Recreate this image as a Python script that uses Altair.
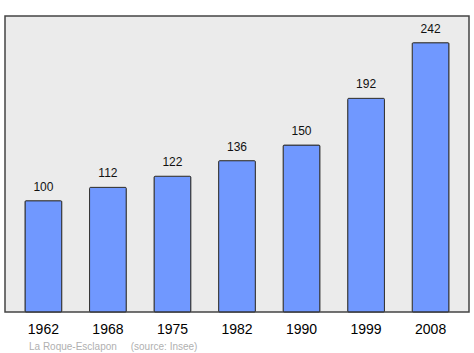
import altair as alt
import pandas as pd

years = ["1962", "1968", "1975", "1982", "1990", "1999", "2008"]
population = [100, 112, 122, 136, 150, 192, 242]

df = pd.DataFrame({"year": years, "pop": population})

x = alt.X("year:N", sort=years, title=None,
          scale=alt.Scale(paddingInner=0.43, paddingOuter=0.31),
          axis=alt.Axis(labelAngle=0, ticks=False, domain=False, labelFontSize=14,
                        labelColor="#000", labelFont="Liberation Sans", labelPadding=10,
                        grid=False))
y = alt.Y("pop:Q", scale=alt.Scale(domain=[0, 266], nice=False), axis=None)

bars = alt.Chart(df).mark_bar(color="#7098ff", stroke="#333", strokeWidth=1,
                             cornerRadius=1).encode(x=x, y=y)
labels = alt.Chart(df).mark_text(dy=-14, fontSize=12, font="Liberation Sans",
                                 color="#111").encode(x=x, y=y, text="pop:Q")

chart = (bars + labels).properties(
    width=464, height=296,
    padding={"left": 5, "top": 16, "right": 5, "bottom": 41},
    autosize=alt.AutoSizeParams(type="none"),
    background="white",
    title=alt.TitleParams("La Roque-Esclapon\u00a0\u00a0\u00a0\u00a0\u00a0(source: Insee)", orient="bottom",
                          anchor="start", fontSize=10, fontWeight="normal",
                          color="#b0b0b0", font="Liberation Sans", dx=24, offset=6),
).configure_view(fill="#ebebeb", stroke="#444", strokeWidth=1.5)

chart.save("out.html", embed_options={"renderer": "svg", "actions": False})
